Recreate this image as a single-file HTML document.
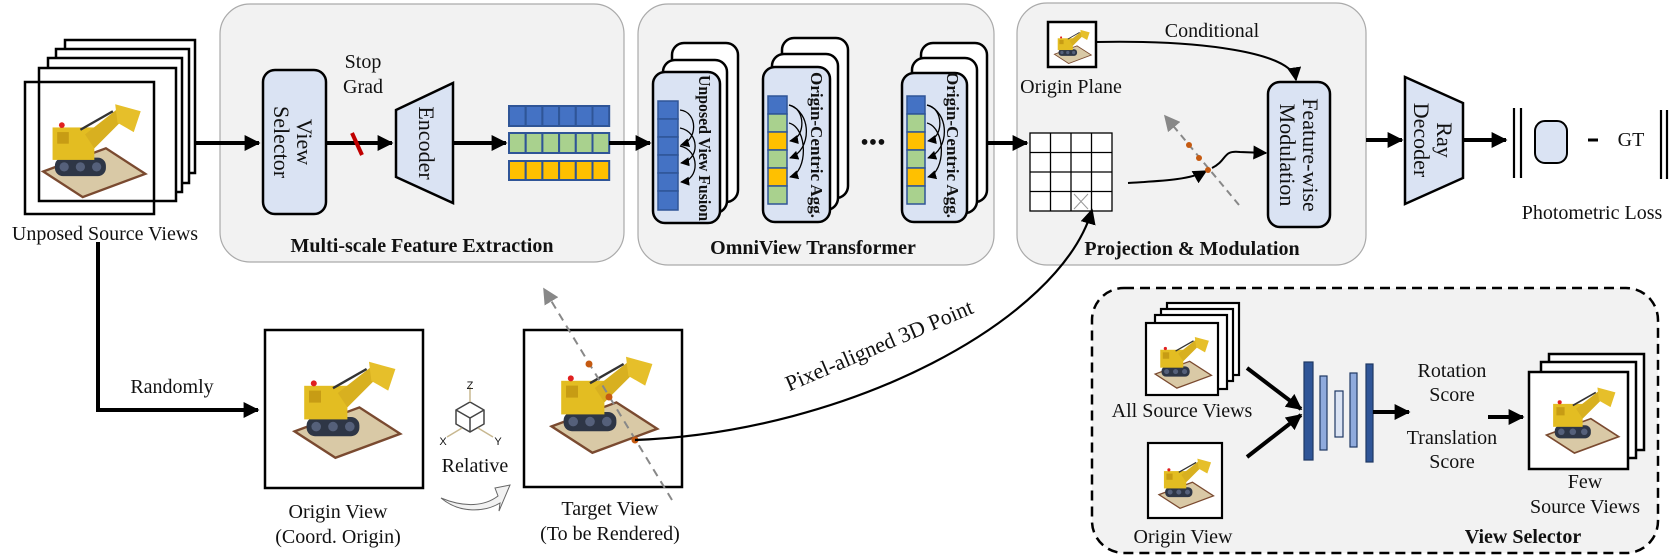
<!DOCTYPE html>
<html><head><meta charset="utf-8"><style>
html,body{margin:0;padding:0;background:#fff;}
svg{display:block;}
text{font-family:"Liberation Serif",serif;fill:#111;}
.b{font-weight:bold;}
</style></head><body>
<svg width="1671" height="556" viewBox="0 0 1671 556" xmlns="http://www.w3.org/2000/svg">
<defs>
<marker id="ah" viewBox="0 0 10 10" refX="9" refY="5" markerWidth="4" markerHeight="4" orient="auto"><path d="M0,0L10,5L0,10z" fill="#000"/></marker>
<marker id="as" viewBox="0 0 10 10" refX="9" refY="5" markerWidth="7" markerHeight="7" orient="auto"><path d="M0,0L10,5L0,10z" fill="#000"/></marker>
<marker id="ag" viewBox="0 0 10 10" refX="9" refY="5" markerWidth="8" markerHeight="8" orient="auto"><path d="M0,0L10,5L0,10z" fill="#888"/></marker>
<symbol id="dz" viewBox="0 0 100 100">
<path d="M8,72 L62,52 L96,74 L42,94 Z" fill="#d9c9a6" stroke="#7a4a30" stroke-width="2"/>
<rect x="18" y="60" width="44" height="16" rx="7" fill="#2e3646"/>
<circle cx="26" cy="68" r="4" fill="#55607a"/><circle cx="40" cy="68" r="4" fill="#55607a"/><circle cx="54" cy="68" r="4" fill="#55607a"/>
<rect x="16" y="34" width="36" height="28" fill="#e3bd22"/>
<rect x="20" y="38" width="10" height="10" fill="#c79c14"/>
<circle cx="24" cy="32" r="2.5" fill="#e02020"/>
<path d="M44,40 L72,18 L78,26 L52,52 Z" fill="#d8b020"/>
<path d="M70,14 L92,20 L86,38 L72,30 Z" fill="#e6bf2a"/>
<path d="M40,36 L68,20" stroke="#333" stroke-width="2"/>
</symbol>
</defs>

<!-- Unposed source views stack -->
<rect x="65" y="40" width="130" height="133" fill="#fff" stroke="#000" stroke-width="2.5"/>
<rect x="56" y="49" width="133" height="134" fill="#fff" stroke="#000" stroke-width="2.5"/>
<rect x="48" y="58" width="134" height="134" fill="#fff" stroke="#000" stroke-width="2.5"/>
<rect x="39" y="68" width="137" height="133" fill="#fff" stroke="#000" stroke-width="2.5"/>
<use href="#dz" x="34" y="88" width="116" height="116"/>
<rect x="25" y="82" width="129" height="132" fill="none" stroke="#000" stroke-width="2.5"/>
<text x="105" y="240" font-size="20" text-anchor="middle">Unposed Source Views</text>

<!-- Box1 -->
<rect x="220" y="4" width="404" height="258" rx="30" fill="#f2f2f2" stroke="#aaa" stroke-width="1.2"/>
<line x1="195" y1="143" x2="259" y2="143" stroke="#000" stroke-width="4" marker-end="url(#ah)"/>
<rect x="263" y="70" width="63" height="144" rx="12" fill="#dae3f3" stroke="#000" stroke-width="2.5"/>
<text transform="translate(294,142) rotate(90)" font-size="22" text-anchor="middle"><tspan x="0" y="-3">View</tspan><tspan x="0" y="20">Selector</tspan></text>
<text x="363" y="68" font-size="20" text-anchor="middle">Stop</text>
<text x="363" y="93" font-size="20" text-anchor="middle">Grad</text>
<line x1="326" y1="143" x2="392" y2="143" stroke="#000" stroke-width="4" marker-end="url(#ah)"/>
<line x1="352" y1="133" x2="362" y2="155" stroke="#c00000" stroke-width="4"/>
<path d="M396,110 L453,83 L453,203 L396,177 Z" fill="#dae3f3" stroke="#000" stroke-width="2.5"/>
<text transform="translate(425,143) rotate(90)" font-size="22" text-anchor="middle" y="6">Encoder</text>
<line x1="453" y1="143" x2="506" y2="143" stroke="#000" stroke-width="4" marker-end="url(#ah)"/>
<g stroke="#2f5597" stroke-width="2">
<g fill="#4472c4"><rect x="509" y="106" width="16.7" height="20"/><rect x="525.7" y="106" width="16.7" height="20"/><rect x="542.4" y="106" width="16.7" height="20"/><rect x="559.1" y="106" width="16.7" height="20"/><rect x="575.8" y="106" width="16.7" height="20"/><rect x="592.5" y="106" width="16.7" height="20"/></g>
<g fill="#a9d18e"><rect x="509" y="133" width="16.7" height="20"/><rect x="525.7" y="133" width="16.7" height="20"/><rect x="542.4" y="133" width="16.7" height="20"/><rect x="559.1" y="133" width="16.7" height="20"/><rect x="575.8" y="133" width="16.7" height="20"/><rect x="592.5" y="133" width="16.7" height="20"/></g>
<g fill="#ffc000"><rect x="509" y="161" width="16.7" height="19"/><rect x="525.7" y="161" width="16.7" height="19"/><rect x="542.4" y="161" width="16.7" height="19"/><rect x="559.1" y="161" width="16.7" height="19"/><rect x="575.8" y="161" width="16.7" height="19"/><rect x="592.5" y="161" width="16.7" height="19"/></g>
</g>
<text x="422" y="252" font-size="20" class="b" text-anchor="middle">Multi-scale Feature Extraction</text>

<!-- Box2 -->
<rect x="638" y="4" width="356" height="261" rx="30" fill="#f2f2f2" stroke="#aaa" stroke-width="1.2"/>
<line x1="609" y1="143" x2="650" y2="143" stroke="#000" stroke-width="4" marker-end="url(#ah)"/>
<!-- card1 -->
<rect x="672" y="43" width="66" height="159" rx="12" fill="#fff" stroke="#000" stroke-width="2.5"/>
<rect x="663" y="60" width="64" height="153" rx="12" fill="#fff" stroke="#000" stroke-width="2.5"/>
<rect x="653" y="72" width="67" height="151" rx="12" fill="#dae3f3" stroke="#000" stroke-width="2.5"/>
<g stroke="#2f5597" stroke-width="1.5" fill="#4472c4">
<rect x="658" y="101" width="20" height="18"/><rect x="658" y="119" width="20" height="18"/><rect x="658" y="137" width="20" height="18"/><rect x="658" y="155" width="20" height="18"/><rect x="658" y="173" width="20" height="18"/><rect x="658" y="191" width="20" height="19"/></g>
<g fill="none" stroke="#000" stroke-width="1.3" marker-end="url(#as)">
<path d="M680,110 C698,112 698,140 681,145"/><path d="M680,128 C700,132 700,160 681,163"/><path d="M680,146 C700,150 700,180 681,182"/></g>
<text transform="translate(705,148) rotate(90)" font-size="17" class="b" text-anchor="middle" y="6" textLength="146" lengthAdjust="spacingAndGlyphs">Unposed View Fusion</text>
<!-- card2 -->
<rect x="782" y="38" width="66" height="160" rx="12" fill="#fff" stroke="#000" stroke-width="2.5"/>
<rect x="772" y="54" width="66" height="156" rx="12" fill="#fff" stroke="#000" stroke-width="2.5"/>
<rect x="763" y="67" width="67" height="155" rx="12" fill="#dae3f3" stroke="#000" stroke-width="2.5"/>
<g stroke="#2f5597" stroke-width="1.5">
<rect x="768" y="96" width="19" height="18" fill="#4472c4"/><rect x="768" y="114" width="19" height="18" fill="#a9d18e"/><rect x="768" y="132" width="19" height="18" fill="#ffc000"/><rect x="768" y="150" width="19" height="18" fill="#a9d18e"/><rect x="768" y="168" width="19" height="18" fill="#ffc000"/><rect x="768" y="186" width="19" height="18" fill="#a9d18e"/></g>
<g fill="none" stroke="#000" stroke-width="1.3" marker-end="url(#as)">
<path d="M789,105 C806,108 806,138 790,141"/><path d="M789,123 C808,128 808,172 790,177"/><path d="M789,105 C812,112 812,150 790,158"/></g>
<text transform="translate(817,145) rotate(90)" font-size="17" class="b" text-anchor="middle" y="6" textLength="146" lengthAdjust="spacingAndGlyphs">Origin-Centric Agg.</text>
<text x="873" y="150" font-size="24" text-anchor="middle">•••</text>
<!-- card3 -->
<rect x="921" y="43" width="66" height="159" rx="12" fill="#fff" stroke="#000" stroke-width="2.5"/>
<rect x="912" y="58" width="65" height="155" rx="12" fill="#fff" stroke="#000" stroke-width="2.5"/>
<rect x="902" y="73" width="65" height="149" rx="12" fill="#dae3f3" stroke="#000" stroke-width="2.5"/>
<g stroke="#2f5597" stroke-width="1.5">
<rect x="907" y="96" width="18" height="18" fill="#4472c4"/><rect x="907" y="114" width="18" height="18" fill="#a9d18e"/><rect x="907" y="132" width="18" height="18" fill="#ffc000"/><rect x="907" y="150" width="18" height="18" fill="#a9d18e"/><rect x="907" y="168" width="18" height="18" fill="#ffc000"/><rect x="907" y="186" width="18" height="18" fill="#a9d18e"/></g>
<g fill="none" stroke="#000" stroke-width="1.3" marker-end="url(#as)">
<path d="M927,105 C944,108 944,138 928,141"/><path d="M927,123 C946,128 946,172 928,177"/><path d="M927,105 C950,112 950,150 928,158"/></g>
<text transform="translate(953,145) rotate(90)" font-size="17" class="b" text-anchor="middle" y="6" textLength="146" lengthAdjust="spacingAndGlyphs">Origin-Centric Agg.</text>
<text x="813" y="254" font-size="20" class="b" text-anchor="middle">OmniView Transformer</text>

<!-- Box3 -->
<rect x="1017" y="3" width="349" height="262" rx="30" fill="#f2f2f2" stroke="#aaa" stroke-width="1.2"/>
<line x1="987" y1="143" x2="1027" y2="143" stroke="#000" stroke-width="4" marker-end="url(#ah)"/>
<rect x="1048" y="22" width="48" height="45" fill="#fff" stroke="#000" stroke-width="2.5"/>
<use href="#dz" x="1051" y="24" width="42" height="42"/>
<text x="1071" y="93" font-size="20" text-anchor="middle">Origin Plane</text>
<text x="1212" y="37" font-size="20" text-anchor="middle">Conditional</text>
<path d="M1096,42 C1200,40 1292,52 1296,80" fill="none" stroke="#000" stroke-width="2" marker-end="url(#as)"/>
<rect x="1268" y="82" width="62" height="145" rx="12" fill="#dae3f3" stroke="#000" stroke-width="2.5"/>
<text transform="translate(1300,155) rotate(90)" font-size="22" text-anchor="middle"><tspan x="0" y="-3">Feature-wise</tspan><tspan x="0" y="20">Modulation</tspan></text>
<g stroke="#000" stroke-width="1.3" fill="#fff">
<rect x="1030" y="133" width="82" height="78"/>
<line x1="1050.5" y1="133" x2="1050.5" y2="211"/><line x1="1071" y1="133" x2="1071" y2="211"/><line x1="1091.5" y1="133" x2="1091.5" y2="211"/>
<line x1="1030" y1="152.5" x2="1112" y2="152.5"/><line x1="1030" y1="172" x2="1112" y2="172"/><line x1="1030" y1="191.5" x2="1112" y2="191.5"/>
</g>
<path d="M1074,194 L1088,209 M1088,194 L1074,209" stroke="#999" stroke-width="1"/>
<line x1="1239" y1="205" x2="1165" y2="116" stroke="#888" stroke-width="2" stroke-dasharray="7,5" marker-end="url(#ag)"/>
<path d="M1128,183 C1160,181 1190,180 1206,171" fill="none" stroke="#000" stroke-width="2" marker-end="url(#as)"/>
<path d="M1212,168 C1228,160 1222,150 1240,152 L1266,153" fill="none" stroke="#000" stroke-width="2" marker-end="url(#as)"/>
<circle cx="1189" cy="145" r="3" fill="#c55a11"/><circle cx="1199" cy="158" r="3" fill="#c55a11"/><circle cx="1208" cy="170" r="3" fill="#c55a11"/>
<text x="1192" y="255" font-size="20" class="b" text-anchor="middle">Projection &amp; Modulation</text>

<!-- Ray decoder and loss -->
<line x1="1366" y1="140" x2="1402" y2="140" stroke="#000" stroke-width="4" marker-end="url(#ah)"/>
<path d="M1405,77 L1463,103 L1463,178 L1405,204 Z" fill="#dae3f3" stroke="#000" stroke-width="2.5"/>
<text transform="translate(1434,140) rotate(90)" font-size="22" text-anchor="middle"><tspan x="0" y="-3">Ray</tspan><tspan x="0" y="20">Decoder</tspan></text>
<line x1="1463" y1="140" x2="1506" y2="140" stroke="#000" stroke-width="4" marker-end="url(#ah)"/>
<line x1="1514" y1="108" x2="1514" y2="178" stroke="#000" stroke-width="2.2"/><line x1="1521" y1="108" x2="1521" y2="178" stroke="#000" stroke-width="2.2"/>
<rect x="1535" y="121" width="32" height="42" rx="10" fill="#dae3f3" stroke="#000" stroke-width="2"/>
<line x1="1588" y1="140" x2="1598" y2="140" stroke="#000" stroke-width="3"/>
<text x="1631" y="146" font-size="20" text-anchor="middle">GT</text>
<line x1="1661" y1="110" x2="1661" y2="179" stroke="#000" stroke-width="2.2"/><line x1="1667" y1="110" x2="1667" y2="179" stroke="#000" stroke-width="2.2"/>
<text x="1592" y="219" font-size="20" text-anchor="middle">Photometric Loss</text>

<!-- Bottom-left flow -->
<path d="M98,242 L98,410 L258,410" fill="none" stroke="#000" stroke-width="4" marker-end="url(#ah)"/>
<text x="172" y="393" font-size="20" text-anchor="middle">Randomly</text>
<rect x="265" y="330" width="158" height="158" fill="#fff" stroke="#000" stroke-width="2.5"/>
<use href="#dz" x="275" y="345" width="140" height="120"/>
<text x="338" y="518" font-size="20" text-anchor="middle">Origin View</text>
<text x="338" y="543" font-size="20" text-anchor="middle">(Coord. Origin)</text>
<!-- axis icon -->
<g stroke="#444" stroke-width="1.5" fill="none">
<path d="M456,410 L470,402 L484,410 L484,424 L470,432 L456,424 Z"/><path d="M456,410 L470,418 L484,410 M470,418 L470,432"/>
</g>
<g stroke="#c8b890" stroke-width="1.5"><line x1="470" y1="387" x2="470" y2="402"/><line x1="462" y1="428" x2="447" y2="437"/><line x1="478" y1="428" x2="493" y2="437"/></g>
<text x="470" y="389" font-size="11" font-family="Liberation Sans" text-anchor="middle" style="font-family:'Liberation Sans',sans-serif">Z</text>
<text x="443" y="445" font-size="11" text-anchor="middle" style="font-family:'Liberation Sans',sans-serif">X</text>
<text x="498" y="445" font-size="11" text-anchor="middle" style="font-family:'Liberation Sans',sans-serif">Y</text>
<text x="475" y="472" font-size="20" text-anchor="middle">Relative</text>
<path d="M441,498 C465,508 485,506 498,496 L495,488 L510,485 L499,511 L500,503 C485,512 460,514 441,498 Z" fill="#f2f2f2" stroke="#666" stroke-width="1"/>
<rect x="524" y="330" width="158" height="157" fill="#fff" stroke="#000" stroke-width="2.5"/>
<use href="#dz" x="532" y="340" width="140" height="120"/>
<line x1="672" y1="500" x2="544" y2="289" stroke="#888" stroke-width="2" stroke-dasharray="8,6" marker-end="url(#ag)"/>
<circle cx="589" cy="364" r="3.5" fill="#c55a11"/><circle cx="609" cy="397" r="3.5" fill="#c55a11"/><circle cx="635" cy="440" r="3.5" fill="#c55a11"/>
<path d="M635,440 C850,432 1060,320 1092,210" fill="none" stroke="#000" stroke-width="2.2" marker-end="url(#as)"/>
<text transform="translate(882,352) rotate(-23)" font-size="22" text-anchor="middle">Pixel-aligned 3D Point</text>
<text x="610" y="515" font-size="20" text-anchor="middle">Target View</text>
<text x="610" y="540" font-size="20" text-anchor="middle">(To be Rendered)</text>

<!-- View Selector dashed box -->
<rect x="1092" y="288" width="566" height="265" rx="32" fill="#f2f2f2" stroke="#000" stroke-width="2.5" stroke-dasharray="10,6"/>
<rect x="1167" y="303" width="72" height="72" fill="#fff" stroke="#000" stroke-width="2.2"/>
<rect x="1161" y="309" width="72" height="72" fill="#fff" stroke="#000" stroke-width="2.2"/>
<rect x="1155" y="315" width="72" height="74" fill="#fff" stroke="#000" stroke-width="2.2"/>
<rect x="1146" y="323" width="72" height="72" fill="#fff" stroke="#000" stroke-width="2.2"/>
<use href="#dz" x="1150" y="328" width="64" height="64"/>
<text x="1182" y="417" font-size="20" text-anchor="middle">All Source Views</text>
<rect x="1148" y="443" width="74" height="75" fill="#fff" stroke="#000" stroke-width="2.2"/>
<use href="#dz" x="1153" y="450" width="64" height="62"/>
<text x="1183" y="543" font-size="20" text-anchor="middle">Origin View</text>
<line x1="1247" y1="368" x2="1301" y2="409" stroke="#000" stroke-width="4" marker-end="url(#ah)"/>
<line x1="1247" y1="457" x2="1301" y2="415" stroke="#000" stroke-width="4" marker-end="url(#ah)"/>
<g stroke="#1f3864" stroke-width="1.2">
<rect x="1304" y="362" width="9" height="98" fill="#2f5597"/>
<rect x="1320" y="376" width="7" height="74" fill="#8faadc"/>
<rect x="1335" y="391" width="8" height="46" fill="#dae3f3"/>
<rect x="1350" y="373" width="7" height="74" fill="#8faadc"/>
<rect x="1366" y="364" width="7" height="98" fill="#2f5597"/>
</g>
<line x1="1373" y1="412" x2="1409" y2="412" stroke="#000" stroke-width="4" marker-end="url(#ah)"/>
<text x="1452" y="377" font-size="20" text-anchor="middle">Rotation</text>
<text x="1452" y="401" font-size="20" text-anchor="middle">Score</text>
<text x="1452" y="444" font-size="20" text-anchor="middle">Translation</text>
<text x="1452" y="468" font-size="20" text-anchor="middle">Score</text>
<line x1="1488" y1="417" x2="1523" y2="417" stroke="#000" stroke-width="4" marker-end="url(#ah)"/>
<rect x="1549" y="354" width="95" height="96" fill="#fff" stroke="#000" stroke-width="2.5"/>
<rect x="1541" y="362" width="95" height="96" fill="#fff" stroke="#000" stroke-width="2.5"/>
<rect x="1529" y="372" width="99" height="97" fill="#fff" stroke="#000" stroke-width="2.5"/>
<use href="#dz" x="1540" y="376" width="82" height="82"/>
<text x="1585" y="488" font-size="20" text-anchor="middle">Few</text>
<text x="1585" y="513" font-size="20" text-anchor="middle">Source Views</text>
<text x="1523" y="543" font-size="20" class="b" text-anchor="middle">View Selector</text>
</svg>
</body></html>
